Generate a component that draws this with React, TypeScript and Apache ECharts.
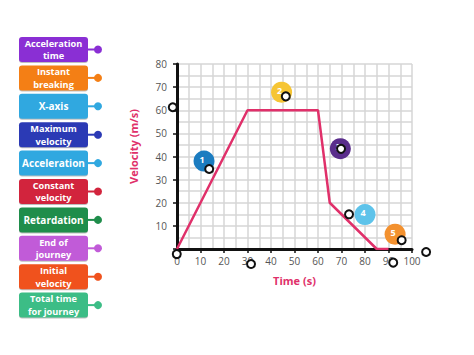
import React, { useEffect, useRef } from "react";
import * as echarts from "echarts";

// Velocity-time graph
const lineTime = [0, 30, 60, 65, 85, 90];
const lineVelocity = [0, 60, 60, 20, 0, 0];

// Numbered hotspot markers
const markerNumbers = ["1", "2", "3", "4", "5"];
const markerX = [11.5, 44.5, 69.5, 80, 92.8];
const markerY = [38, 67.8, 43.4, 14.9, 6.4];
const markerColors = ["#1b7cc0", "#f6c534", "#5a2d8c", "#5ec3ea", "#f3912f"];

// Small open drop-target circles
const pinX = [13.7, 46.3, 69.8, 73.2, 95.6, -1.8, -0.1, 31.5, 92, 106];
const pinY = [34.6, 66, 43.3, 15, 3.8, 61.3, -2.2, -6.5, -5.9, -1.3];

// Axis tick labels
const xTicks = [0, 10, 20, 30, 40, 50, 60, 70, 80, 90, 100];
const yTicks = [10, 20, 30, 40, 50, 60, 70, 80];

// Left-hand answer labels
const labelTexts = [
  ["Acceleration", "time"],
  ["Instant", "breaking"],
  ["X-axis"],
  ["Maximum", "velocity"],
  ["Acceleration"],
  ["Constant", "velocity"],
  ["Retardation"],
  ["End of", "journey"],
  ["Initial", "velocity"],
  ["Total time", "for journey"],
];
const labelColors = [
  "#8a2fd4",
  "#f47f15",
  "#30a8e0",
  "#2b3ab5",
  "#30a8e0",
  "#d2243d",
  "#1f8d4b",
  "#c15bd8",
  "#f0521d",
  "#3cbd86",
];

export default function App() {
  const ref = useRef<HTMLDivElement>(null);
  useEffect(() => {
    if (!ref.current) return;
    const chart = echarts.init(ref.current, undefined, { renderer: "svg" });
    const font = "'Open Sans', 'Noto Sans', sans-serif";

    const graphics: any[] = [];
    labelTexts.forEach((lines, i) => {
      const top = 37 + i * 28.4;
      const c = labelColors[i];
      graphics.push({
        type: "line",
        shape: { x1: 86, y1: top + 12.5, x2: 98, y2: top + 12.5 },
        style: { stroke: c, lineWidth: 2 },
        z: 1,
      });
      graphics.push({
        type: "circle",
        shape: { cx: 98, cy: top + 12.5, r: 4 },
        style: { fill: c },
        z: 1,
      });
      graphics.push({
        type: "rect",
        shape: { x: 19, y: top + 1, width: 69, height: 25, r: 3 },
        style: { fill: "rgba(0,0,0,0.25)" },
        z: 2,
      });
      graphics.push({
        type: "rect",
        shape: { x: 19, y: top, width: 69, height: 25, r: 3 },
        style: { fill: c },
        z: 3,
      });
      lines.forEach((ln, j) => {
        const single = lines.length === 1;
        const cy = single ? top + 12.5 : top + 6.2 + j * 12.6;
        graphics.push({
          type: "text",
          x: 53.5,
          y: cy,
          style: {
            text: ln,
            fill: "#ffffff",
            font: `bold ${single ? 10 : 9.2}px ${font}`,
            align: "center",
            verticalAlign: "middle",
          },
          z: 4,
        });
      });
    });

    chart.setOption({
      animation: false,
      backgroundColor: "#ffffff",
      textStyle: { fontFamily: font },
      grid: { left: 177, top: 64, width: 235, height: 185, containLabel: false },
      graphic: graphics,
      xAxis: {
        type: "value",
        min: 0,
        max: 100,
        interval: 10,
        name: "Time (s)",
        nameLocation: "middle",
        nameGap: 26,
        nameTextStyle: { color: "#e0306a", fontWeight: "bold", fontSize: 11, fontFamily: font },
        axisLine: { show: true, onZero: false, lineStyle: { color: "#111", width: 3 } },
        axisTick: { show: true, length: 4, lineStyle: { color: "#111", width: 1.5 } },
        axisLabel: {
          color: "#555",
          fontSize: 10,
          margin: 7,
          formatter: (v: number) => (xTicks.includes(v) ? String(v) : ""),
        },
        splitLine: { show: true, lineStyle: { color: "#d6d6d6", width: 1.5 } },
        minorTick: { show: false, splitNumber: 2 },
        minorSplitLine: { show: true, lineStyle: { color: "#d6d6d6", width: 1.5 } },
      },
      yAxis: {
        type: "value",
        min: 0,
        max: 80,
        interval: 10,
        name: "Velocity (m/s)",
        nameLocation: "middle",
        nameGap: 38,
        nameTextStyle: {
          color: "#e0306a",
          fontWeight: "bold",
          fontSize: 11,
          fontFamily: font,
          padding: [0, 0, 0, 20],
        },
        axisLine: { show: true, onZero: false, lineStyle: { color: "#111", width: 3 } },
        axisTick: { show: true, length: 4, lineStyle: { color: "#111", width: 1.5 } },
        axisLabel: {
          color: "#555",
          fontSize: 10,
          margin: 10,
          formatter: (v: number) => (yTicks.includes(v) ? String(v) : ""),
        },
        splitLine: { show: true, lineStyle: { color: "#d6d6d6", width: 1.5 } },
        minorTick: { show: false, splitNumber: 2 },
        minorSplitLine: { show: true, lineStyle: { color: "#d6d6d6", width: 1.5 } },
      },
      series: [
        {
          type: "line",
          data: lineTime.map((t, i) => [t, lineVelocity[i]]),
          showSymbol: false,
          symbol: "none",
          lineStyle: { color: "#e0306a", width: 2.5 },
          z: 3,
        },
        {
          type: "scatter",
          clip: false,
          symbolSize: 21,
          data: markerX.map((x, i) => ({
            value: [x, markerY[i]],
            itemStyle: { color: markerColors[i], opacity: 1 },
            label: {
              show: true,
              formatter: markerNumbers[i],
              color: "#ffffff",
              fontSize: 9,
              fontWeight: "bold",
              position: "inside",
              offset: [-2, -2],
            },
          })),
          z: 4,
        },
        {
          type: "scatter",
          clip: false,
          symbol: "circle",
          symbolSize: 8,
          itemStyle: { color: "#ffffff", borderColor: "#111", borderWidth: 2, opacity: 1 },
          data: pinX.map((x, i) => [x, pinY[i]]),
          z: 5,
        },
      ],
    });
    return () => chart.dispose();
  }, []);
  return (
    <div
      ref={ref}
      style={{ position: "fixed", left: 0, top: 0, width: 474, height: 355, background: "#fff" }}
    />
  );
}
